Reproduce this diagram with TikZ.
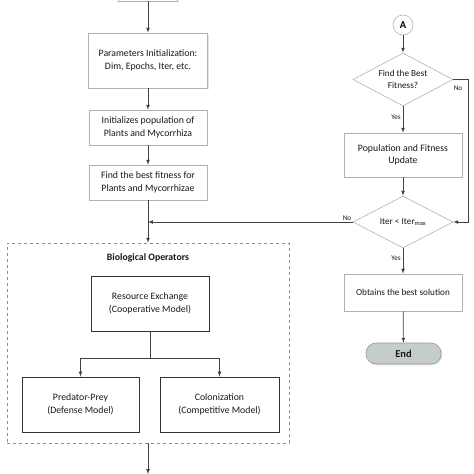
\documentclass[tikz,border=0pt]{standalone}
\usepackage{fontspec}
\setmainfont{Carlito}
\usetikzlibrary{shapes.geometric,shadows}
\definecolor{endgray}{RGB}{196,205,201}
\begin{document}
\begin{tikzpicture}[x=1pt,y=-1pt]
\tikzstyle{arrow} = [-latex, line width=0.7pt, black!75]
\tikzstyle{link} = [line width=0.7pt, black!75]
\tikzstyle{box} = [draw=black!30, fill=white, line width=0.6pt, inner sep=0, align=center, text=black!90, font=\fontsize{9.8}{12.5}\selectfont, drop shadow={shadow xshift=1.3pt, shadow yshift=-1.3pt, fill=black!22}]
\tikzstyle{opbox} = [draw=black!80, fill=white, line width=0.8pt, inner sep=0, align=center, text=black!90, font=\fontsize{9.8}{13}\selectfont]
\tikzstyle{decision} = [shape=diamond, draw=black!30, fill=white, line width=0.6pt, inner sep=0, aspect=2, align=center, text=black!90, font=\fontsize{9.2}{12}\selectfont]
\tikzstyle{tag} = [inner sep=0, text=black!90, font=\fontsize{7.2}{8}\selectfont]
\useasboundingbox (0,0) rectangle (474,474);
    % left column
    \node [box, minimum width=59pt, minimum height=26pt] (start) at (148,-12) {};
    \node [box, minimum width=119pt, minimum height=55pt] (params) at (148,60.5) {Parameters Initialization:\\Dim, Epochs, Iter, etc.};
    \node [box, minimum width=118pt, minimum height=35pt] (init) at (148,127.5) {Initializes population of\\Plants and Mycorrhiza};
    \node [box, minimum width=118pt, minimum height=35pt] (best) at (148,182.5) {Find the best fitness for\\Plants and Mycorrhizae};
    \node [draw=black!45, dashed, line width=0.6pt, minimum width=282pt, minimum height=200pt] (bio) at (148,343) {};
    \node [tag, font=\fontsize{9.8}{11}\selectfont\bfseries] (biotitle) at (148,258) {Biological Operators};
    \node [opbox, minimum width=118pt, minimum height=55pt] (res) at (150,303.5) {Resource Exchange\\(Cooperative Model)};
    \node [opbox, minimum width=117pt, minimum height=55pt] (pred) at (80.5,404.5) {Predator-Prey\\(Defense Model)};
    \node [opbox, minimum width=119pt, minimum height=55pt] (colon) at (219.5,404.5) {Colonization\\(Competitive Model)};
    \coordinate (split) at (150,358);
    \coordinate (down) at (148,474);
    % right column
    \node [draw=black!30, fill=white, shape=circle, minimum size=20pt, inner sep=0, line width=0.6pt, font=\fontsize{10.5}{11}\selectfont\bfseries] (A) at (403,25) {A};
    \node [decision, minimum width=100pt, minimum height=53pt] (d1) at (403,79.5) {Find the Best\\Fitness?};
    \node [box, minimum width=118pt, minimum height=44pt] (upd) at (403,155) {Population and Fitness\\Update};
    \node [decision, minimum width=100pt, minimum height=52pt] (d2) at (403,222) {Iter < Iter\textsubscript{max}};
    \node [box, minimum width=118pt, minimum height=37pt, font=\fontsize{9.2}{11}\selectfont] (sol) at (403,292.5) {Obtains the best solution};
    \node [box, fill=endgray, draw=black!40, rounded corners=10pt, minimum width=75pt, minimum height=21pt, font=\fontsize{10.5}{11}\selectfont\bfseries] (end) at (403.5,353.5) {End};
    \coordinate (corner) at (468,79.5);
    \coordinate (join) at (148,222);

\draw [arrow] (start) -- (params);
\draw [arrow] (params) -- (init);
\draw [arrow] (init) -- (best);
\draw [arrow] (best) -- (bio.north);
\draw [arrow] (bio.south) -- (down);
\draw [link] (res) -- (split);
\draw [arrow] (split) -| (pred.north);
\draw [arrow] (split) -| (colon.north);
\draw [arrow] (A) -- (d1);
\draw [arrow] (d1) -- node [tag, left=2pt, pos=0.4] (yes1) {Yes} (upd);
\draw [arrow] (d1.east) -- (corner) |- (d2.east);
\node [tag] (no1) at (458,88) {No};
\draw [arrow] (upd) -- (d2);
\draw [arrow] (d2.west) -- (join);
\node [tag] (no2) at (347,218) {No};
\draw [arrow] (d2) -- node [tag, left=2pt, pos=0.4] (yes2) {Yes} (sol);
\draw [arrow] (sol) -- (end);
\end{tikzpicture}
\end{document}
